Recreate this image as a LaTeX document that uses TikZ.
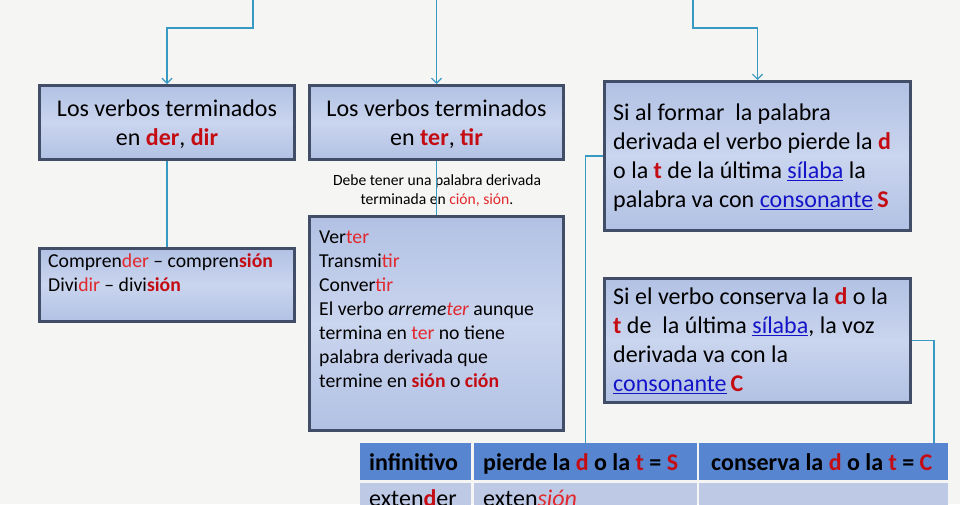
\documentclass[tikz,border=0pt]{standalone}
\usepackage{fontspec}
\setmainfont{Carlito}
\usetikzlibrary{arrows.meta}
\definecolor{bgc}{RGB}{245,245,243}
\definecolor{boxA}{RGB}{178,193,228}
\definecolor{boxB}{RGB}{202,213,238}
\definecolor{bordc}{RGB}{66,78,104}
\definecolor{connc}{RGB}{56,154,194}
\definecolor{redB}{RGB}{196,12,18}
\definecolor{redL}{RGB}{226,40,44}
\definecolor{lnkc}{RGB}{20,20,200}
\definecolor{theadc}{RGB}{88,133,207}
\definecolor{trowc}{RGB}{190,201,229}
\newcommand{\redbold}[1]{\textcolor{redB}{\textbf{#1}}}
\newcommand{\redlite}[1]{\textcolor{redL}{#1}}
\newcommand{\linkword}[1]{\textcolor{lnkc}{\underline{#1}}}
\begin{document}
\begin{tikzpicture}[x=1pt,y=1pt,
  box/.style={draw=bordc, line width=3pt, top color=boxA, bottom color=boxA, middle color=boxB, inner sep=0pt},
  big/.style={inner sep=0pt, font=\fontsize{24}{29}\selectfont},
  mid/.style={inner sep=0pt, font=\fontsize{19.7}{24}\selectfont, align=left, anchor=north west},
  small/.style={inner sep=0pt, font=\fontsize{15.6}{19}\selectfont, align=center, anchor=north},
  hcell/.style={fill=theadc, inner sep=0pt, anchor=north west, minimum height=37pt},
  rcell/.style={fill=trowc, inner sep=0pt, anchor=north west, minimum height=40pt},
  celltext/.style={inner sep=0pt, anchor=base west, font=\fontsize{24}{29}\selectfont},
  conn/.style={draw=connc, line width=1.2pt},
  arr/.style={conn, -{Straight Barb[length=5pt,width=10pt]}}]
\fill[bgc] (0,0) rectangle (960,-504);
\useasboundingbox (0,0) rectangle (960,-504);
\clip (0,0) rectangle (960,-504);

% boxes
\node[box, minimum width=255pt, minimum height=74pt] (b1) at (167,-122.5) {};
\node[box, minimum width=254pt, minimum height=74pt] (b2) at (436.5,-122.5) {};
\node[box, minimum width=306pt, minimum height=149pt] (b3) at (757.5,-156) {};
\node[box, minimum width=255pt, minimum height=73pt] (b4) at (167,-285) {};
\node[box, minimum width=254pt, minimum height=214pt] (b5) at (436.5,-323.5) {};
\node[box, minimum width=306pt, minimum height=124pt] (b6) at (757.5,-340.5) {};

% box texts
\node[big, align=center, anchor=north] (t1) at (167,-95.7)
  {\strut Los verbos terminados\\en \redbold{der}, \redbold{dir}};
\node[big, align=center, anchor=north] (t2) at (436.5,-95.7)
  {\strut Los verbos terminados\\en \redbold{ter}, \redbold{tir}};
\node[big, align=left, anchor=north west] (t3) at (613,-99.7)
  {\strut Si al formar \ la palabra\\
   derivada el verbo pierde la \redbold{d}\\
   o la \redbold{t} de la última \linkword{sílaba} la\\
   palabra va con \linkword{consonante}\,\redbold{S}};
\node[big, align=left, anchor=north west] (t6) at (613,-283.7)
  {\strut Si el verbo conserva la \redbold{d} o la\\
   \redbold{t} de \ la última \linkword{sílaba}, la voz\\
   derivada va con la\\
   \linkword{consonante}\,\redbold{C}};
\node[mid] (t4) at (48,-250.2)
  {\strut Compren\redlite{der} – compren\redbold{sión}\\
   Divi\redlite{dir} – divi\redbold{sión}};
\node[mid] (t5) at (319,-226.2)
  {\strut Ver\redlite{ter}\\
   Transmi\redlite{tir}\\
   Conver\redlite{tir}\\
   El verbo \textit{arreme\redlite{ter}} aunque\\
   termina en \redlite{ter} no tiene\\
   palabra derivada que\\
   termine en \redbold{sión} o \redbold{ción}};
\node[small] (note) at (437,-171.7)
  {\strut Debe tener una palabra derivada\\terminada en \redlite{ción, sión}.};

% table
\node[hcell, minimum width=111pt] (th1) at (360,-443) {};
\node[hcell, minimum width=223.5pt] (th2) at (473.5,-443) {};
\node[hcell, minimum width=249pt] (th3) at (699,-443) {};
\node[rcell, minimum width=111pt] (r1) at (360,-483) {};
\node[rcell, minimum width=223.5pt] (r2) at (473.5,-483) {};
\node[rcell, minimum width=249pt] (r3) at (699,-483) {};
\node[celltext] (h1) at (369,-470) {\textbf{infinitivo}};
\node[celltext] (h2) at (483,-470) {\textbf{pierde la \textcolor{redB}{d} o la \textcolor{redB}{t} = \textcolor{redB}{S}}};
\node[celltext] (h3) at (711,-470) {\textbf{conserva la \textcolor{redB}{d} o la \textcolor{redB}{t} = \textcolor{redB}{C}}};
\node[celltext] (c1) at (369,-506) {exten\redbold{d}er};
\node[celltext] (c2) at (483,-506) {exten\textcolor{redL}{\textit{sión}}};

% connectors
\coordinate (top1) at (253,0);
\coordinate (top2) at (436.5,0);
\coordinate (top3) at (693,0);
\coordinate (e7) at (934,-443);
\draw[arr] (top1) -- ++(0,-28) -| (b1.north);
\draw[arr] (top2) -- (b2.north);
\draw[arr] (top3) -- ++(0,-28) -| (b3.north);
\draw[conn] (b1.south) -- (b4.north);
\draw[conn] (b2.south) -- (b5.north);
\draw[conn] (b3.west) -| (th2.north);
\draw[conn] (b6.east) -| (e7);
\end{tikzpicture}
\end{document}
